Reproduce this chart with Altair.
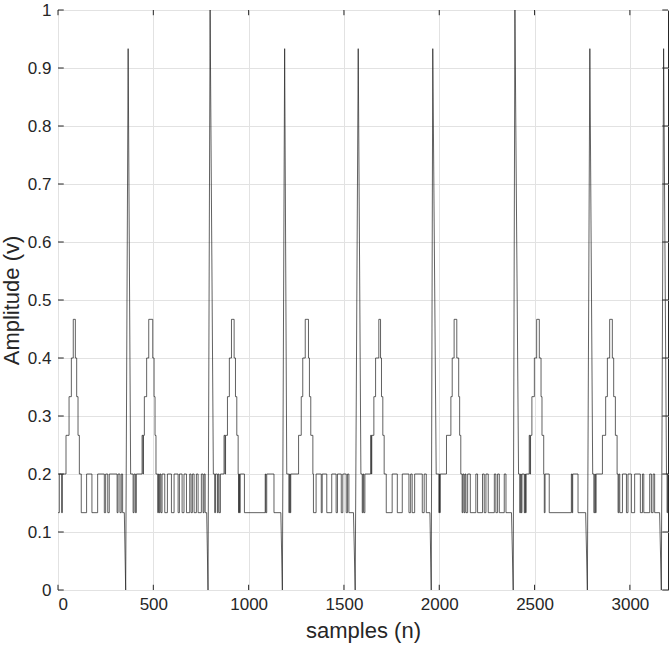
import altair as alt
import pandas as pd

# ---- data -----------------------------------------------------------------
# quantised signal (levels in 1/15 V steps): sample index where the level changes, new level
step_n = [7, 19, 23, 42, 58, 70, 80, 91, 98, 105, 112, 122,
          150, 178, 208, 243, 250, 261, 269, 310, 315, 325, 332, 339,
          394, 399, 406, 411,
          441, 446, 448, 453, 465, 476, 497, 504, 509, 514,
          523, 527, 531, 535, 540, 546, 560, 574, 595, 609, 630, 637, 651, 661,
          674, 691, 698, 705, 714, 726, 735, 752, 761, 766, 772,
          822, 826, 836, 840, 845, 852,
          871, 876, 879, 889, 899, 910, 924, 931, 938, 945,
          947, 950, 952, 956, 978, 1087, 1090, 1095, 1133,
          1211, 1215, 1218, 1221,
          1262, 1276, 1284, 1297, 1314, 1319, 1326, 1337,
          1340, 1354, 1381, 1386, 1410, 1436, 1459, 1466, 1486, 1494, 1512, 1519, 1526,
          1596, 1600, 1604, 1610,
          1640, 1644, 1646, 1657, 1666, 1683, 1692, 1697, 1704, 1711,
          1722, 1753, 1780, 1806, 1841, 1850, 1858, 1871, 1911, 1921, 1932,
          1998, 2001, 2003, 2005,
          2038, 2061, 2068, 2078, 2092, 2102, 2107, 2113,
          2120, 2124, 2130, 2135, 2140, 2149, 2163, 2192, 2201, 2227, 2236, 2245,
          2257, 2289, 2297, 2306, 2315, 2341, 2350,
          2422, 2427, 2430, 2434, 2446, 2450, 2452, 2456,
          2472, 2476, 2479, 2486, 2499, 2511, 2525, 2534, 2539, 2548,
          2551, 2555, 2577, 2693, 2697, 2700, 2728,
          2811, 2816, 2819, 2823,
          2856, 2873, 2882, 2894, 2908, 2915, 2924, 2933,
          2938, 2942, 2947, 2961, 2982, 2990, 3008, 3025, 3055, 3066, 3073, 3104,
          3113, 3122, 3130,
          3195, 3198]
step_q = [3, 2, 3, 4, 5, 6, 7, 6, 5, 4, 3, 2,
          3, 2, 3, 2, 3, 2, 3, 2, 3, 2, 3, 2,
          2, 3, 2, 3,
          4, 3, 4, 5, 6, 7, 6, 5, 4, 3,
          2, 3, 2, 3, 2, 3, 2, 3, 2, 3, 2, 3, 2, 3,
          2, 3, 2, 3, 2, 3, 2, 3, 2, 3, 2,
          2, 3, 2, 3, 2, 3,
          4, 3, 4, 5, 6, 7, 6, 5, 4, 3,
          2, 3, 2, 3, 2, 3, 2, 3, 2,
          2, 3, 2, 3,
          4, 5, 6, 7, 6, 5, 4, 3,
          2, 3, 2, 3, 2, 3, 2, 3, 2, 3, 2, 3, 2,
          2, 3, 2, 3,
          4, 3, 4, 5, 6, 7, 6, 5, 4, 3,
          2, 3, 2, 3, 2, 3, 2, 3, 2, 3, 2,
          2, 3, 2, 3,
          4, 5, 6, 7, 6, 5, 4, 3,
          2, 3, 2, 3, 2, 3, 2, 3, 2, 3, 2, 3,
          2, 3, 2, 3, 2, 3, 2,
          2, 3, 2, 3, 2, 3, 2, 3,
          4, 3, 4, 5, 6, 7, 6, 5, 4, 3,
          2, 3, 2, 3, 2, 3, 2,
          2, 3, 2, 3,
          4, 5, 6, 7, 6, 5, 4, 3,
          2, 3, 2, 3, 2, 3, 2, 3, 2, 3, 2, 3,
          2, 3, 2,
          2, 3]

# sharp spikes: last sample of the 2/15 level, zero, peak, back at 3/15
spike_start = [348, 780, 1169, 1550, 1951, 2379, 2768, 3156]
spike_zero = [355, 787, 1177, 1559, 1958, 2388, 2777, 3165]
spike_peak = [368, 798, 1189, 1575, 1966, 2397, 2790, 3177]
spike_peak_q = [14, 15, 14, 14, 14, 15, 14, 14]
spike_end = [381, 815, 1200, 1589, 1984, 2416, 2805, 3192]

n_total = 3200
levels = 15
start_q = 2

x_ticks = [0, 500, 1000, 1500, 2000, 2500, 3000]
y_ticks = [0, 0.1, 0.2, 0.3, 0.4, 0.5, 0.6, 0.7, 0.8, 0.9, 1]

# ---- build the polyline ----------------------------------------------------
events = [(n, 0, i) for i, n in enumerate(step_n)] + [(n, 1, i) for i, n in enumerate(spike_start)]
events.sort()
xs, ys = [0], [start_q / levels]
cur = start_q
for n, kind, i in events:
    if kind == 0:
        xs += [n, n]
        ys += [cur / levels, step_q[i] / levels]
        cur = step_q[i]
    else:
        xs += [spike_start[i], spike_zero[i], spike_peak[i], spike_end[i]]
        ys += [cur / levels, 0, spike_peak_q[i] / levels, 3 / levels]
        cur = 3
xs.append(n_total)
ys.append(cur / levels)
sig = pd.DataFrame({"n": xs, "v": ys, "k": range(len(xs))})

xscale = alt.Scale(domain=[0, n_total], nice=False, zero=False)
yscale = alt.Scale(domain=[0, 1], nice=False)

font = "Liberation Sans"
line = alt.Chart(sig).mark_line(color="#1e1e1e", strokeWidth=0.7, clip=True).encode(
    x=alt.X("n:Q", scale=xscale,
            axis=alt.Axis(values=x_ticks, format="d", title="samples (n)", grid=True,
                          ticks=False, domain=False, labelPadding=6, titlePadding=8)),
    y=alt.Y("v:Q", scale=yscale,
            axis=alt.Axis(values=y_ticks, format="~g", title="Amplitude (v)", grid=True,
                          ticks=False, domain=False, labelPadding=7, titlePadding=4)),
    order="k:Q",
)

# inward ticks (MATLAB box style)
tx = pd.DataFrame({"x": x_ticks})
ty = pd.DataFrame({"y": y_ticks})
tick_len_y = 0.009
tick_len_x = 30
tb = alt.Chart(tx).mark_rule(color="#262626", strokeWidth=1).encode(
    x="x:Q", y=alt.datum(0), y2=alt.datum(tick_len_y))
tt = alt.Chart(tx).mark_rule(color="#262626", strokeWidth=1).encode(
    x="x:Q", y=alt.datum(1), y2=alt.datum(1 - tick_len_y))
tl = alt.Chart(ty).mark_rule(color="#262626", strokeWidth=1).encode(
    y="y:Q", x=alt.datum(0), x2=alt.datum(tick_len_x))
tr = alt.Chart(ty).mark_rule(color="#262626", strokeWidth=1).encode(
    y="y:Q", x=alt.datum(n_total), x2=alt.datum(n_total - tick_len_x))

chart = alt.layer(line, tb, tt, tl, tr).properties(
    width=610, height=580,
    autosize=alt.AutoSizeParams(type="none"),
    padding={"left": 58, "top": 10, "right": 2, "bottom": 65},
    background="white",
).configure_view(
    stroke="#262626", strokeWidth=1
).configure_axis(
    labelFont=font, titleFont=font, labelFontSize=17, titleFontSize=22,
    labelColor="#262626", titleColor="#262626", titleFontWeight="normal",
    gridColor="#e2e2e2", gridWidth=1,
)

chart.save("out.html", embed_options={"renderer": "svg", "actions": False})
